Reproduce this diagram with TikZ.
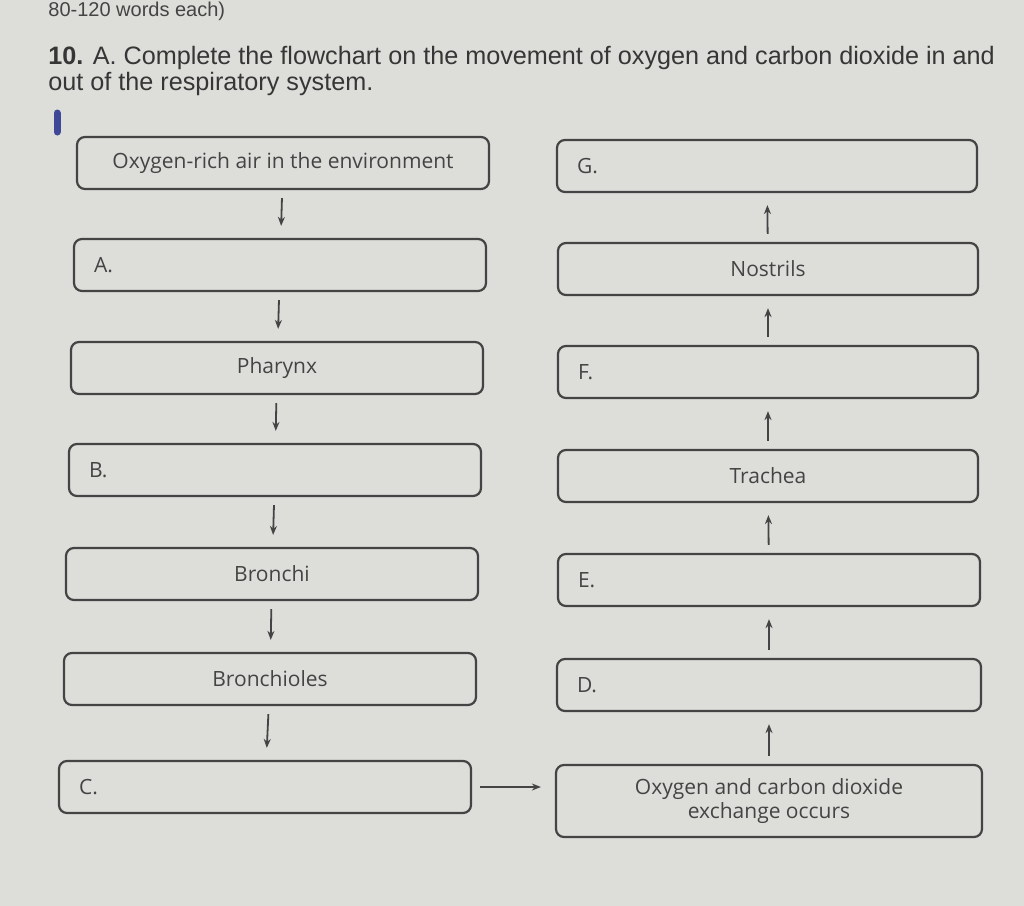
\documentclass[tikz,border=0pt]{standalone}
\usepackage{fontspec}
\setmainfont{Liberation Sans}
\newfontfamily\boxfont{Open Sans}
\usetikzlibrary{arrows.meta}
\definecolor{paper}{RGB}{221,222,218}
\definecolor{ink}{RGB}{68,68,68}
\definecolor{pen}{RGB}{62,72,150}
\newcommand{\boxw}{206pt}
\newcommand{\boxh}{26pt}
\tikzset{
  stepbox/.style={draw=ink, line width=1.1pt, rounded corners=4pt, minimum width=\boxw, minimum height=\boxh, text=ink, align=center, font=\boxfont\fontsize{10.5}{12}\selectfont},
  letterbox/.style={stepbox, text width=\boxw-20pt, inner xsep=10pt, align=left},
  flow/.style={draw=ink, line width=0.9pt, -{Stealth[length=4.5pt,width=3.5pt]}, shorten <=4pt, shorten >=6pt}
}

\begin{document}
\begin{tikzpicture}[x=0.5pt, y=-0.5pt]
\useasboundingbox (0,0) rectangle (1024,906);
\fill[paper] (0,0) rectangle (1024,906);
% heading
\node[anchor=base west, inner sep=0pt, text=ink, font=\fontsize{10}{10}\selectfont] (cut) at (48,16) {80-120 words each)};
\node[anchor=north west, inner sep=0pt, align=left, text=ink!80!black, font=\fontsize{12.6}{11.5}\selectfont] (title) at (48,46) {\textbf{10.} A. Complete the flowchart on the movement of oxygen and carbon dioxide in and\\out of the respiratory system.};
\draw[pen, line width=3.5pt, line cap=round] (57,113) -- (57,132);
% left column
\node[stepbox] (l1) at (283,163) {Oxygen-rich air in the environment};
\node[letterbox] (l2) at (280,265) {A.};
\node[stepbox] (l3) at (277,368) {Pharynx};
\node[letterbox] (l4) at (275,470) {B.};
\node[stepbox] (l5) at (272,574) {Bronchi};
\node[stepbox] (l6) at (270,679) {Bronchioles};
\node[letterbox] (l7) at (265,787) {C.};
% right column
\node[letterbox, text width=190pt] (r1) at (767,166) {G.};
\node[stepbox, minimum width=210pt] (r2) at (768,269) {Nostrils};
\node[letterbox, text width=190pt] (r3) at (768,372) {F.};
\node[stepbox, minimum width=210pt] (r4) at (768,476) {Trachea};
\node[letterbox, text width=191pt] (r5) at (769,580) {E.};
\node[letterbox, text width=192pt] (r6) at (769,685) {D.};
\node[stepbox, minimum width=213pt, minimum height=36pt] (r7) at (769,801) {Oxygen and carbon dioxide\\exchange occurs};
% arrows
\draw[flow] (l1) -- (l2);
\draw[flow] (l2) -- (l3);
\draw[flow] (l3) -- (l4);
\draw[flow] (l4) -- (l5);
\draw[flow] (l5) -- (l6);
\draw[flow] (l6) -- (l7);
\draw[flow, shorten >=7pt] (l7.east) -- (l7.east -| r7.west);
\draw[flow] (r7) -- (r6);
\draw[flow] (r6) -- (r5);
\draw[flow] (r5) -- (r4);
\draw[flow] (r4) -- (r3);
\draw[flow] (r3) -- (r2);
\draw[flow] (r2) -- (r1);
\end{tikzpicture}
\end{document}
